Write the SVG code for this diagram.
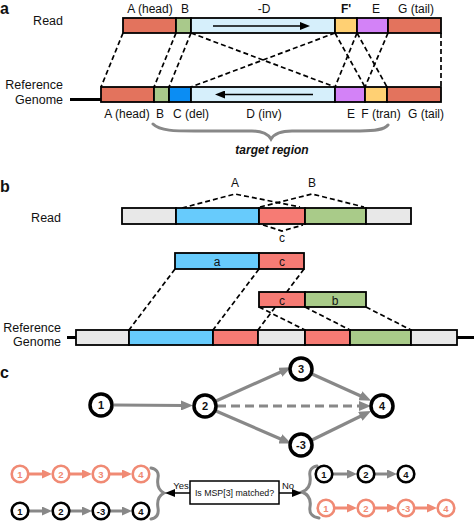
<svg xmlns="http://www.w3.org/2000/svg" width="474" height="521" viewBox="0 0 474 521">
<defs>
<style>
text{font-family:"Liberation Sans",Arial,sans-serif;fill:#111}
.lab{font-size:12px;text-anchor:middle}
.side{font-size:12.5px;text-anchor:end}
.panel{font-size:16px;font-weight:bold}
.seg{stroke:#000;stroke-width:1.8}
.dash{stroke:#000;stroke-width:1.7;stroke-dasharray:5,3;fill:none}
.red{fill:#e3735d}.grn{fill:#a9c98b}.lb{fill:#d6effb}.yel{fill:#ffd073}.pur{fill:#d382f7}.blu{fill:#0b8df3}
.bred{fill:#f67b74}.bblu{fill:#67cbfc}.bgrn{fill:#a9cb89}.gry{fill:#e8e8e8}
.edge{stroke:#888;stroke-width:3.2;fill:none}
.node circle{fill:#fff;stroke:#000;stroke-width:3.5}
.node text{font-size:11px;font-weight:bold;text-anchor:middle}
.sn circle{fill:#fff;stroke:#000;stroke-width:2.6}
.sn text{font-size:9.5px;font-weight:bold;text-anchor:middle}
.sal circle{stroke:#f08a74}
.sal text{fill:#f08a74}
.sedge{stroke:#888;stroke-width:3;fill:none}
.sedge.s{stroke:#f08a74}
.brace{stroke:#888;stroke-width:3;fill:none;stroke-linecap:round}
</style>
<marker id="ag" viewBox="0 0 12 10" refX="3" refY="5" markerWidth="12" markerHeight="10" markerUnits="userSpaceOnUse" orient="auto"><path d="M0,0 L12,5 L0,10 z" fill="#888"/></marker>
<marker id="as" viewBox="0 0 10 9" refX="3" refY="4.5" markerWidth="10" markerHeight="9" markerUnits="userSpaceOnUse" orient="auto"><path d="M0,0 L10,4.5 L0,9 z" fill="#888"/></marker>
<marker id="ass" viewBox="0 0 10 9" refX="3" refY="4.5" markerWidth="10" markerHeight="9" markerUnits="userSpaceOnUse" orient="auto"><path d="M0,0 L10,4.5 L0,9 z" fill="#f08a74"/></marker>
<marker id="ab" viewBox="0 0 10 8" refX="2" refY="4" markerWidth="10" markerHeight="8" markerUnits="userSpaceOnUse" orient="auto"><path d="M0,0 L10,4 L0,8 z" fill="#000"/></marker>
</defs>

<!-- Panel a -->
<text class="panel" x="0" y="14">a</text>
<g id="a-labels">
<text class="side" x="63" y="25">Read</text>
<text class="side" x="63" y="89">Reference</text>
<text class="side" x="63" y="104">Genome</text>
<text class="lab" x="150" y="13">A (head)</text>
<text class="lab" x="185" y="13">B</text>
<text class="lab" x="264" y="13">-D</text>
<text class="lab" x="346" y="13" font-weight="bold">F'</text>
<text class="lab" x="376" y="13">E</text>
<text class="lab" x="416" y="13">G (tail)</text>
<text class="lab" x="127" y="118">A (head)</text>
<text class="lab" x="160" y="118">B</text>
<text class="lab" x="191" y="118">C (del)</text>
<text class="lab" x="264" y="118">D (inv)</text>
<text class="lab" x="351" y="118">E</text>
<text class="lab" x="381" y="118">F (tran)</text>
<text class="lab" x="426" y="118">G (tail)</text>
<text x="272" y="154" font-size="12" font-weight="bold" font-style="italic" text-anchor="middle">target region</text>
</g>
<g id="a-connectors">
<line class="dash" x1="123" y1="33" x2="101" y2="87"/>
<line class="dash" x1="176" y1="33" x2="154" y2="87"/>
<line class="dash" x1="191" y1="33" x2="169" y2="87"/>
<line class="dash" x1="191" y1="33" x2="335" y2="87"/>
<line class="dash" x1="335" y1="33" x2="191" y2="87"/>
<line class="dash" x1="335" y1="33" x2="365" y2="87"/>
<line class="dash" x1="357" y1="33" x2="387" y2="87"/>
<line class="dash" x1="357" y1="33" x2="335" y2="87"/>
<line class="dash" x1="388" y1="33" x2="365" y2="87"/>
<line class="dash" x1="441" y1="33" x2="441" y2="87"/>
<path class="brace" d="M153,124 C160,131 175,131 195,131 L252,131 C263,131 268,134 271,139 C274,134 280,131 292,131 L360,131 C375,131 384,130 388,125"/>
</g>
<g id="a-read">
<rect class="seg red" x="123" y="18" width="53" height="15"/>
<rect class="seg grn" x="176" y="18" width="15" height="15"/>
<rect class="seg lb" x="191" y="18" width="144" height="15"/>
<rect class="seg yel" x="335" y="18" width="22" height="15"/>
<rect class="seg pur" x="357" y="18" width="31" height="15"/>
<rect class="seg red" x="388" y="18" width="53" height="15"/>
<line x1="213" y1="26" x2="302" y2="26" stroke="#000" stroke-width="1.6" marker-end="url(#ab)"/>
</g>
<g id="a-ref">
<line x1="70" y1="99.5" x2="101" y2="99.5" stroke="#000" stroke-width="3"/>
<rect class="seg red" x="101" y="87" width="53" height="15"/>
<rect class="seg grn" x="154" y="87" width="15" height="15"/>
<rect class="seg blu" x="169" y="87" width="22" height="15"/>
<rect class="seg lb" x="191" y="87" width="144" height="15"/>
<rect class="seg pur" x="335" y="87" width="30" height="15"/>
<rect class="seg yel" x="365" y="87" width="22" height="15"/>
<rect class="seg red" x="387" y="87" width="54" height="15"/>
<line x1="313" y1="94.5" x2="223" y2="94.5" stroke="#000" stroke-width="1.6" marker-end="url(#ab)"/>
</g>

<!-- Panel b -->
<text class="panel" x="0" y="192">b</text>
<g id="b-labels">
<text class="side" x="61" y="222">Read</text>
<text class="side" x="61" y="332">Reference</text>
<text class="side" x="61" y="346">Genome</text>
<text class="lab" x="235" y="187">A</text>
<text class="lab" x="312" y="187">B</text>
<text class="lab" x="282" y="242">c</text>
</g>
<g id="b-connectors">
<polyline class="dash" points="182,208 235,194 300,207"/>
<polyline class="dash" points="260,207 312,194 364,207"/>
<polyline class="dash" points="263,225 282,231 303,225"/>
<line class="dash" x1="175" y1="269" x2="129" y2="330"/>
<line class="dash" x1="259" y1="269" x2="213" y2="330"/>
<line class="dash" x1="304" y1="269" x2="258" y2="330"/>
<line class="dash" x1="259" y1="307" x2="305" y2="330"/>
<line class="dash" x1="305" y1="307" x2="350" y2="330"/>
<line class="dash" x1="366" y1="307" x2="411" y2="330"/>
</g>
<g id="b-read">
<rect class="seg gry" x="122" y="208" width="54" height="16"/>
<rect class="seg bblu" x="176" y="208" width="83" height="16"/>
<rect class="seg bred" x="259" y="208" width="46" height="16"/>
<rect class="seg bgrn" x="305" y="208" width="61" height="16"/>
<rect class="seg gry" x="366" y="208" width="45" height="16"/>
</g>
<g id="b-ac">
<rect class="seg bblu" x="175" y="253" width="84" height="16"/>
<rect class="seg bred" x="259" y="253" width="45" height="16"/>
<text class="lab" x="217" y="266" font-size="13">a</text>
<text class="lab" x="282" y="266" font-size="13">c</text>
</g>
<g id="b-cb">
<rect class="seg bred" x="259" y="292" width="46" height="15"/>
<rect class="seg bgrn" x="305" y="292" width="61" height="15"/>
<text class="lab" x="282" y="305" font-size="13">c</text>
<text class="lab" x="335" y="305" font-size="13">b</text>
</g>
<g id="b-ref">
<line x1="67" y1="337.5" x2="76" y2="337.5" stroke="#000" stroke-width="3"/>
<line x1="457" y1="337.5" x2="474" y2="337.5" stroke="#000" stroke-width="3"/>
<rect class="seg gry" x="76" y="330" width="53" height="15"/>
<rect class="seg bblu" x="129" y="330" width="84" height="15"/>
<rect class="seg bred" x="213" y="330" width="45" height="15"/>
<rect class="seg gry" x="258" y="330" width="47" height="15"/>
<rect class="seg bred" x="305" y="330" width="45" height="15"/>
<rect class="seg bgrn" x="350" y="330" width="61" height="15"/>
<rect class="seg gry" x="411" y="330" width="46" height="15"/>
</g>

<!-- Panel c -->
<text class="panel" x="0" y="378">c</text>
<g id="c-connectors">
<line class="edge" x1="114" y1="405" x2="184" y2="405.5" marker-end="url(#ag)"/>
<line class="edge" x1="216" y1="401" x2="283" y2="371" marker-end="url(#ag)"/>
<line class="edge" x1="217" y1="406" x2="362" y2="406" stroke-dasharray="9,5" marker-end="url(#ag)"/>
<line class="edge" x1="216" y1="411" x2="283" y2="440" marker-end="url(#ag)"/>
<line class="edge" x1="312" y1="374" x2="363" y2="397" marker-end="url(#ag)"/>
<line class="edge" x1="312" y1="440" x2="363" y2="415" marker-end="url(#ag)"/>
<line class="sedge s" x1="29" y1="474" x2="45" y2="474" marker-end="url(#ass)"/>
<line class="sedge s" x1="70" y1="474" x2="85" y2="474" marker-end="url(#ass)"/>
<line class="sedge s" x1="110" y1="474" x2="125" y2="474" marker-end="url(#ass)"/>
<line class="sedge" x1="29" y1="511" x2="45" y2="511" marker-end="url(#as)"/>
<line class="sedge" x1="70" y1="511" x2="85" y2="511" marker-end="url(#as)"/>
<line class="sedge" x1="110" y1="511" x2="125" y2="511" marker-end="url(#as)"/>
<line class="sedge" x1="333" y1="474" x2="350" y2="474" marker-end="url(#as)"/>
<line class="sedge" x1="375" y1="474" x2="390" y2="474" marker-end="url(#as)"/>
<line class="sedge s" x1="335" y1="508" x2="350" y2="508" marker-end="url(#ass)"/>
<line class="sedge s" x1="375" y1="508" x2="390" y2="508" marker-end="url(#ass)"/>
<line class="sedge s" x1="415" y1="508" x2="430" y2="508" marker-end="url(#ass)"/>
<path class="brace" d="M151,468 C157,469 159,473 158,478 C157,484 158,490 164,493 C158,496 157,502 158,508 C159,514 157,518 151,519"/>
<path class="brace" d="M317,466 C311,467 309,471 310,476 C311,483 310,489 302,492 C310,495 311,501 310,507 C309,513 312,517 319,518"/>
<line x1="190" y1="493" x2="173" y2="493" stroke="#000" stroke-width="1.5" marker-end="url(#ab)"/>
<line x1="279" y1="493" x2="294" y2="493" stroke="#000" stroke-width="1.5" marker-end="url(#ab)"/>
<text x="181" y="489" font-size="9.5" text-anchor="middle">Yes</text>
<text x="288" y="489" font-size="9.5" text-anchor="middle">No</text>
</g>
<g id="c-n1" class="node"><circle cx="101" cy="405" r="11"/><text x="101" y="409">1</text></g>
<g id="c-n2" class="node"><circle cx="205" cy="406" r="11"/><text x="205" y="410">2</text></g>
<g id="c-n3" class="node"><circle cx="301" cy="369" r="11"/><text x="301" y="373">3</text></g>
<g id="c-n4" class="node"><circle cx="382" cy="406" r="11"/><text x="382" y="410">4</text></g>
<g id="c-nm3" class="node"><circle cx="301" cy="445" r="11"/><text x="301" y="449">-3</text></g>
<g id="c-decision"><rect x="190" y="481" width="89" height="23" fill="#fff" stroke="#000" stroke-width="1.5"/><text x="234.5" y="496" font-size="8.8" text-anchor="middle">Is MSP[3] matched?</text></g>
<g id="c-chain1" class="sn sal">
<circle cx="20" cy="474" r="8.3"/><text x="20" y="477.5">1</text>
<circle cx="61" cy="474" r="8.3"/><text x="61" y="477.5">2</text>
<circle cx="101" cy="474" r="8.3"/><text x="101" y="477.5">3</text>
<circle cx="141" cy="474" r="8.3"/><text x="141" y="477.5">4</text>
</g>
<g id="c-chain2" class="sn">
<circle cx="20" cy="511" r="8.3"/><text x="20" y="514.5">1</text>
<circle cx="61" cy="511" r="8.3"/><text x="61" y="514.5">2</text>
<circle cx="101" cy="511" r="8.3"/><text x="101" y="514.5">-3</text>
<circle cx="141" cy="511" r="8.3"/><text x="141" y="514.5">4</text>
</g>
<g id="c-chain3" class="sn">
<circle cx="324" cy="474" r="8.3"/><text x="324" y="477.5">1</text>
<circle cx="366" cy="474" r="8.3"/><text x="366" y="477.5">2</text>
<circle cx="406" cy="474" r="8.3"/><text x="406" y="477.5">4</text>
</g>
<g id="c-chain4" class="sn sal">
<circle cx="326" cy="508" r="8.3"/><text x="326" y="511.5">1</text>
<circle cx="366" cy="508" r="8.3"/><text x="366" y="511.5">2</text>
<circle cx="406" cy="508" r="8.3"/><text x="406" y="511.5">-3</text>
<circle cx="446" cy="508" r="8.3"/><text x="446" y="511.5">4</text>
</g>
</svg>
